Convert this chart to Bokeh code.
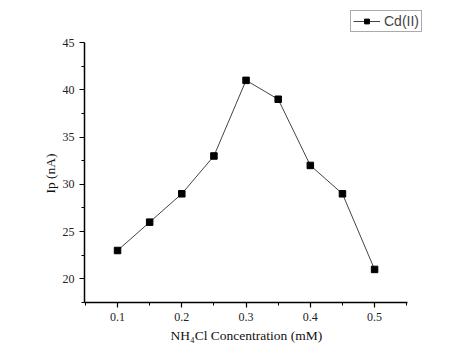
from bokeh.plotting import figure
from bokeh.models import Legend, LegendItem, FixedTicker, Range1d, Title
from bokeh.embed import file_html
from bokeh.resources import INLINE

conc = [0.10, 0.15, 0.20, 0.25, 0.30, 0.35, 0.40, 0.45, 0.50]
ip = [23, 26, 29, 33, 41, 39, 32, 29, 21]
x_ticks = [0.1, 0.2, 0.3, 0.4, 0.5]
y_ticks = [20, 25, 30, 35, 40, 45]

p = figure(width=466, height=350, output_backend="svg", toolbar_location=None,
           x_range=Range1d(0.0486, 0.587), y_range=Range1d(17.5, 48.39),
           min_border_left=84, min_border_right=36, min_border_top=10, min_border_bottom=48)
p.outline_line_color = None
p.grid.visible = False
p.background_fill_color = "white"
p.border_fill_color = "white"

l = p.line(conc, ip, line_color="#444444", line_width=1)
s = p.scatter(conc, ip, marker="square", size=6.5, fill_color="black", line_color="black")

for ax in (p.xaxis[0], p.yaxis[0]):
    ax.axis_line_width = 1.5
    ax.axis_line_color = "black"
    ax.major_tick_line_width = 1.2
    ax.minor_tick_line_width = 1
    ax.major_tick_in = 0
    ax.major_tick_out = 5
    ax.minor_tick_in = 0
    ax.minor_tick_out = 3
    ax.major_label_text_font = "Liberation Serif"
    ax.major_label_text_font_size = "12px"
    ax.major_label_text_color = "#222222"

p.xaxis[0].bounds = (0.0486, 0.551)
p.yaxis[0].bounds = (17.5, 45)
p.xaxis[0].ticker = FixedTicker(ticks=x_ticks, minor_ticks=[0.05, 0.15, 0.25, 0.35, 0.45, 0.55])
p.yaxis[0].ticker = FixedTicker(ticks=y_ticks, minor_ticks=[17.5, 22.5, 27.5, 32.5, 37.5, 42.5])
p.xaxis[0].major_label_overrides = {0.1: "0.1", 0.2: "0.2", 0.3: "0.3", 0.4: "0.4", 0.5: "0.5"}

xt = Title(text="NH\u2084Cl Concentration (mM)", align="left", offset=86,
           text_font="Liberation Serif", text_font_size="13.5px", text_font_style="normal",
           text_color="#111111", standoff=4)
yt = Title(text="Ip (nA)", align="left", offset=109,
           text_font="Liberation Serif", text_font_size="13.5px", text_font_style="normal",
           text_color="#111111", standoff=4)
p.add_layout(xt, "below")
p.add_layout(yt, "left")

legend = Legend(items=[LegendItem(label="Cd(II)", renderers=[l, s])],
                location=(266, 270), border_line_color="#555555", border_line_width=1,
                label_text_font="Liberation Sans", label_text_font_size="14px",
                glyph_width=27, glyph_height=12, padding=2, spacing=0, margin=0,
                label_standoff=4, background_fill_alpha=1)
p.add_layout(legend, "center")

open("out.html", "w").write(file_html(p, INLINE))
